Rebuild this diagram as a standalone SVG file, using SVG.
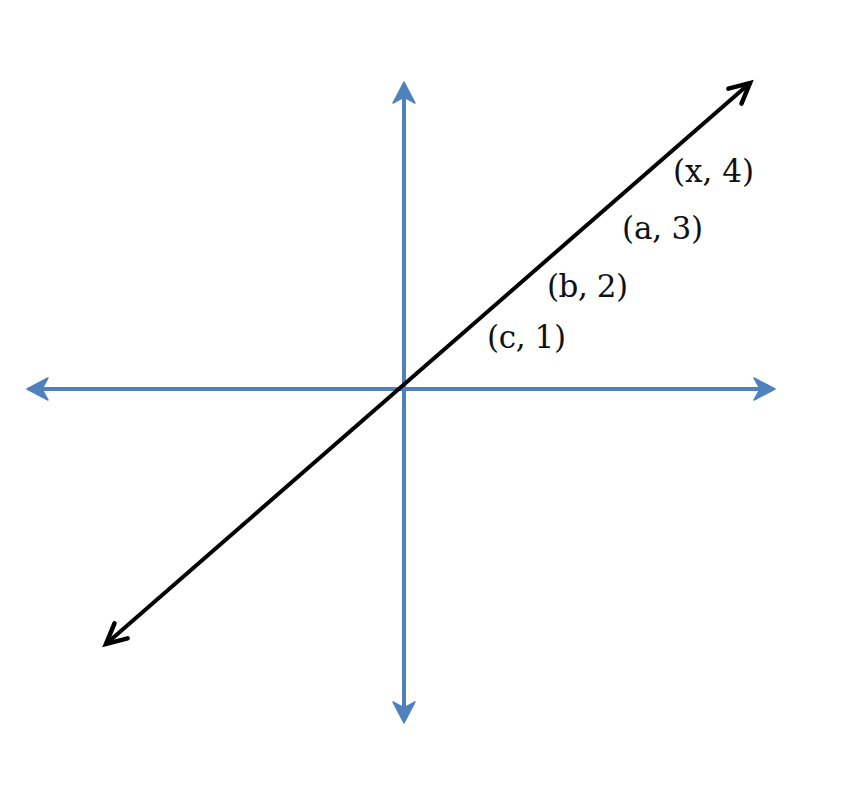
<svg xmlns="http://www.w3.org/2000/svg" width="863" height="787" viewBox="0 0 863 787">
  <style>
    .axis { stroke: #4f81bd; stroke-width: 4; fill: none; }
    .line { stroke: #000000; stroke-width: 4; fill: none; }
    .lbl { font-family: "DejaVu Serif", "Liberation Serif", serif; font-size: 31px; fill: #111111; }
  </style>
  <defs>
    <marker id="blueArrow" markerUnits="userSpaceOnUse" markerWidth="40" markerHeight="40" viewBox="-10 -20 40 40" refX="0" refY="0" orient="auto-start-reverse">
      <path d="M15,0 L-6,-11 L0,0 L-6,11 Z" fill="#4f81bd" stroke="#4f81bd" stroke-width="1.5" stroke-linejoin="round"/>
    </marker>
    <marker id="blackArrow" markerUnits="userSpaceOnUse" markerWidth="40" markerHeight="40" viewBox="-30 -20 40 40" refX="0" refY="0" orient="auto-start-reverse">
      <path d="M-20,-10 L0,0 L-20,10" fill="none" stroke="#000" stroke-width="4.5" stroke-linecap="round" stroke-linejoin="miter"/>
    </marker>
  </defs>
  <rect width="863" height="787" fill="#ffffff"/>
  <g id="connectors">
    <line id="y-axis" class="axis" x1="404" y1="97" x2="404" y2="708" marker-start="url(#blueArrow)" marker-end="url(#blueArrow)"/>
    <line id="x-axis" class="axis" x1="42" y1="389" x2="760" y2="389" marker-start="url(#blueArrow)" marker-end="url(#blueArrow)"/>
    <line id="diag" class="line" x1="106" y1="644" x2="750" y2="83" marker-start="url(#blackArrow)" marker-end="url(#blackArrow)"/>
  </g>
  <g id="label-x4"><text class="lbl" x="673" y="182" textLength="81" lengthAdjust="spacing">(x, 4)</text></g>
  <g id="label-a3"><text class="lbl" x="622" y="239" textLength="81" lengthAdjust="spacing">(a, 3)</text></g>
  <g id="label-b2"><text class="lbl" x="547" y="297" textLength="81" lengthAdjust="spacing">(b, 2)</text></g>
  <g id="label-c1"><text class="lbl" x="487" y="348" textLength="79" lengthAdjust="spacing">(c, 1)</text></g>
</svg>
